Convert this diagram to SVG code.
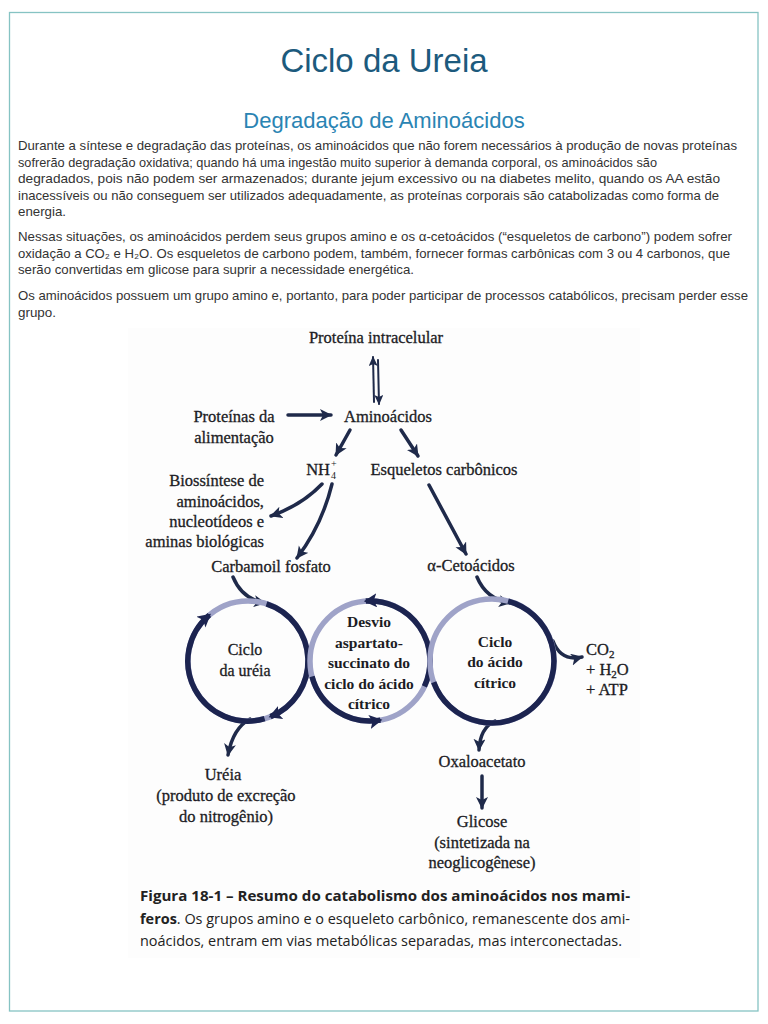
<svg xmlns="http://www.w3.org/2000/svg" width="768" height="1024" viewBox="0 0 768 1024">
<defs>
<style>
.body{font-family:"Liberation Sans",Arial,sans-serif;font-size:13px;fill:#333}
.fig{font-family:"Liberation Serif","Times New Roman",serif;font-size:16.5px;fill:#1c1c24;stroke:#1c1c24;stroke-width:0.3;text-anchor:middle}
.figb{font-family:"Liberation Serif","Times New Roman",serif;font-size:15.5px;font-weight:bold;fill:#1c1c24;text-anchor:middle}
.cap{font-family:"Open Sans","Noto Sans",sans-serif;font-size:14px;fill:#222}
.arr{fill:none;stroke:#1f2a4a;stroke-width:3.5;stroke-linecap:round;marker-end:url(#ah)}
.thin{fill:none;stroke:#1f2a4a;stroke-width:2;stroke-linecap:round;marker-end:url(#ahs)}
.ring{fill:none;stroke:#9fa3c8;stroke-width:5.5}
.dark{fill:none;stroke:#1c2450;stroke-width:5.5}
.darka{fill:none;stroke:#1c2450;stroke-width:5.5;marker-end:url(#ahc)}
</style>
<marker id="ah" markerUnits="userSpaceOnUse" markerWidth="14" markerHeight="14" refX="11" refY="6" orient="auto"><path d="M0,0 L12,6 L0,12 L3,6 Z" fill="#1f2a4a"/></marker>
<marker id="ahs" markerUnits="userSpaceOnUse" markerWidth="12" markerHeight="12" refX="9" refY="4.5" orient="auto"><path d="M0,0 L10,4.5 L0,9 L2,4.5 Z" fill="#1f2a4a"/></marker>
<marker id="ahc" markerUnits="userSpaceOnUse" markerWidth="16" markerHeight="16" refX="11" refY="7" orient="auto"><path d="M0,0 L13,7 L0,14 L3,7 Z" fill="#1c2450"/></marker>
</defs>
<rect x="0" y="0" width="768" height="1024" fill="#ffffff"/>
<rect x="9.5" y="12.5" width="748.5" height="998.5" fill="#ffffff" stroke="#86c3c3" stroke-width="1.3"/>

<g id="title">
<text x="384" y="72" text-anchor="middle" font-family="Liberation Sans,Arial,sans-serif" font-size="33" fill="#1c5a7d">Ciclo da Ureia</text>
<text x="384" y="128" text-anchor="middle" font-family="Liberation Sans,Arial,sans-serif" font-size="22" fill="#2a84b3">Degradação de Aminoácidos</text>
</g>

<g id="paragraphs">
<text class="body" x="18" y="150" textLength="719" lengthAdjust="spacingAndGlyphs">Durante a síntese e degradação das proteínas, os aminoácidos que não forem necessários à produção de novas proteínas</text>
<text class="body" x="18" y="166.5" textLength="639" lengthAdjust="spacingAndGlyphs">sofrerão degradação oxidativa; quando há uma ingestão muito superior à demanda corporal, os aminoácidos são</text>
<text class="body" x="18" y="183" textLength="702" lengthAdjust="spacingAndGlyphs">degradados, pois não podem ser armazenados; durante jejum excessivo ou na diabetes melito, quando os AA estão</text>
<text class="body" x="18" y="199.5" textLength="701" lengthAdjust="spacingAndGlyphs">inacessíveis ou não conseguem ser utilizados adequadamente, as proteínas corporais são catabolizadas como forma de</text>
<text class="body" x="18" y="216" textLength="48" lengthAdjust="spacingAndGlyphs">energia.</text>
<text class="body" x="18" y="241" textLength="714" lengthAdjust="spacingAndGlyphs">Nessas situações, os aminoácidos perdem seus grupos amino e os α-cetoácidos (“esqueletos de carbono”) podem sofrer</text>
<text class="body" x="18" y="258" textLength="712" lengthAdjust="spacingAndGlyphs">oxidação a CO₂ e H₂O. Os esqueletos de carbono podem, também, fornecer formas carbônicas com 3 ou 4 carbonos, que</text>
<text class="body" x="18" y="274" textLength="396" lengthAdjust="spacingAndGlyphs">serão convertidas em glicose para suprir a necessidade energética.</text>
<text class="body" x="18" y="300" textLength="730" lengthAdjust="spacingAndGlyphs">Os aminoácidos possuem um grupo amino e, portanto, para poder participar de processos catabólicos, precisam perder esse</text>
<text class="body" x="18" y="317" textLength="38" lengthAdjust="spacingAndGlyphs">grupo.</text>
</g>

<rect x="128" y="328" width="512" height="630" fill="#fdfdfd"/>

<g id="connectors">
<path class="thin" d="M374,402 L373,357"/>
<path class="thin" d="M378,360 L379,404"/>
<path class="arr" d="M288,415 L331,415"/>
<path class="arr" d="M350,430 L336,455"/>
<path class="arr" d="M401,430 L418,456"/>
<path class="arr" d="M322,484 Q302,505 271,516"/>
<path class="arr" d="M332,484 Q322,525 297,558"/>
<path class="arr" d="M429,485 L466,554"/>
<path class="arr" d="M233,577 Q242,599 265,603"/>
<path class="arr" d="M477,577 Q486,599 510,603"/>
<path class="arr" d="M250,719 Q233,728 228,755"/>
<path class="arr" d="M553,641 Q561,662 582,657"/>
<path class="arr" d="M495,721 Q480,728 479,750"/>
<path class="arr" d="M482,776 L482,808"/>
</g>

<g id="ciclo-ureia">
<circle class="ring" cx="248" cy="661" r="60"/>
<path class="darka" d="M266.5,603.9 A60,60 0 0 1 270.5,716.6"/>
<path class="darka" d="M264.6,718.7 A60,60 0 0 1 209.4,615"/>
<text class="fig" x="245" y="655" style="font-size:16px">Ciclo</text>
<text class="fig" x="245" y="676" style="font-size:16px">da uréia</text>
</g>

<g id="desvio">
<circle class="ring" cx="370" cy="661" r="60"/>
<path class="darka" d="M424.4,686.4 A60,60 0 0 0 365.8,601.1"/>
<path class="darka" d="M312,676.5 A60,60 0 0 0 380.4,720.1"/>
<text class="figb" x="369" y="627">Desvio</text>
<text class="figb" x="369" y="648">aspartato-</text>
<text class="figb" x="369" y="668">succinato do</text>
<text class="figb" x="369" y="689">ciclo do ácido</text>
<text class="figb" x="369" y="709">cítrico</text>
</g>

<g id="ciclo-citrico">
<circle class="ring" cx="492" cy="661" r="62" stroke="#c4c2dc"/>
<path class="dark" d="M508.1,601.1 A62,62 0 1 1 433.7,682.2"/>
<text class="figb" x="495" y="647">Ciclo</text>
<text class="figb" x="495" y="667">do ácido</text>
<text class="figb" x="495" y="688">cítrico</text>
</g>

<g id="proteina-intracelular"><text class="fig" x="376" y="343">Proteína intracelular</text></g>
<g id="proteinas-alimentacao"><text class="fig" x="234" y="422">Proteínas da</text><text class="fig" x="234" y="443">alimentação</text></g>
<g id="aminoacidos"><text class="fig" x="388" y="422">Aminoácidos</text></g>
<g id="nh4"><text class="fig" x="330" y="475" style="text-anchor:end">NH</text><text x="331" y="479" font-family="Liberation Serif,serif" font-size="10" fill="#1c1c24">4</text><text x="331" y="467" font-family="Liberation Serif,serif" font-size="10" fill="#1c1c24">+</text></g>
<g id="esqueletos"><text class="fig" x="444" y="475">Esqueletos carbônicos</text></g>
<g id="biossintese">
<text class="fig" x="264" y="486" style="text-anchor:end">Biossíntese de</text>
<text class="fig" x="264" y="507" style="text-anchor:end">aminoácidos,</text>
<text class="fig" x="264" y="527" style="text-anchor:end">nucleotídeos e</text>
<text class="fig" x="264" y="547" style="text-anchor:end">aminas biológicas</text>
</g>
<g id="carbamoil"><text class="fig" x="271" y="572">Carbamoil fosfato</text></g>
<g id="cetoacidos"><text class="fig" x="471" y="571">α-Cetoácidos</text></g>
<g id="co2"><text class="fig" x="586" y="655" style="text-anchor:start">CO<tspan font-size="11" dy="3">2</tspan></text>
<text class="fig" x="586" y="675" style="text-anchor:start">+ H<tspan font-size="11" dy="3">2</tspan><tspan dy="-3">O</tspan></text>
<text class="fig" x="586" y="695" style="text-anchor:start">+ ATP</text></g>
<g id="ureia"><text class="fig" x="223" y="780">Uréia</text><text class="fig" x="226" y="801">(produto de excreção</text><text class="fig" x="226" y="822">do nitrogênio)</text></g>
<g id="oxaloacetato"><text class="fig" x="482" y="767">Oxaloacetato</text></g>
<g id="glicose"><text class="fig" x="482" y="827">Glicose</text><text class="fig" x="482" y="848">(sintetizada na</text><text class="fig" x="482" y="868">neoglicogênese)</text></g>

<g id="caption">
<text class="cap" x="140" y="901" font-weight="bold" textLength="490" lengthAdjust="spacingAndGlyphs">Figura 18-1 – Resumo do catabolismo dos aminoácidos nos mami-</text>
<text class="cap" x="140" y="924" textLength="490" lengthAdjust="spacingAndGlyphs"><tspan font-weight="bold">feros</tspan>. Os grupos amino e o esqueleto carbônico, remanescente dos ami-</text>
<text class="cap" x="140" y="946" textLength="482" lengthAdjust="spacingAndGlyphs">noácidos, entram em vias metabólicas separadas, mas interconectadas.</text>
</g>
</svg>
